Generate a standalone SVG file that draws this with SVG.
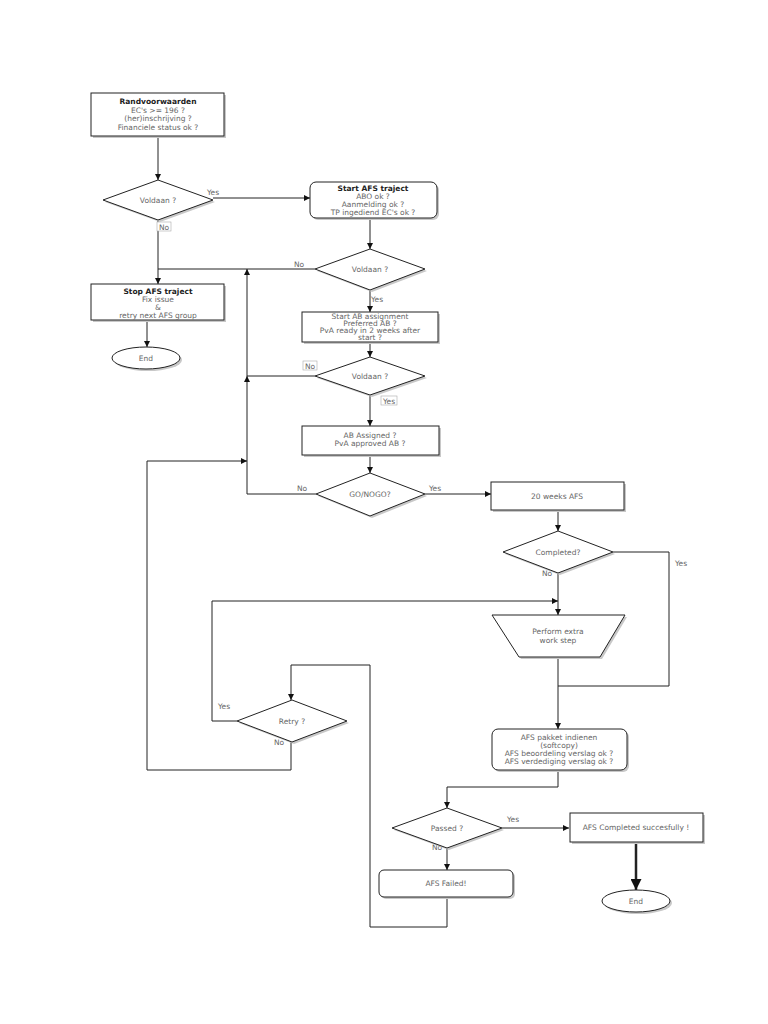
<svg xmlns="http://www.w3.org/2000/svg" width="768" height="1024" viewBox="0 0 768 1024">
<style>
text{font-family:"DejaVu Sans",Verdana,sans-serif;font-size:7.5px;fill:#666;text-anchor:middle}
.b{font-weight:bold;fill:#222}
.shape{fill:#fff;stroke:#222;stroke-width:1}
.sh{fill:#c8c8c8;stroke:none}
.c{fill:none;stroke:#222;stroke-width:1}
.lbl{fill:#fff;stroke:#aaa;stroke-width:0.6}
</style>
<defs>
<marker id="a" viewBox="0 0 10 10" refX="10" refY="5" markerWidth="6" markerHeight="6" orient="auto" markerUnits="userSpaceOnUse"><path d="M0,0L10,5L0,10z" fill="#111"/></marker>
<marker id="ab" viewBox="0 0 10 10" refX="10" refY="5" markerWidth="11" markerHeight="11" orient="auto" markerUnits="userSpaceOnUse"><path d="M0,0L10,5L0,10z" fill="#111"/></marker>
</defs>
<rect width="768" height="1024" fill="#fff"/>

<g id="connectors">
<path class="c" d="M158,136V180" marker-end="url(#a)"/>
<path class="c" d="M213,198H310" marker-end="url(#a)"/>
<path class="c" d="M158,220V284" marker-end="url(#a)"/>
<path class="c" d="M370,218V249" marker-end="url(#a)"/>
<path class="c" d="M315,269H158"/>
<path class="c" d="M370,290V312" marker-end="url(#a)"/>
<path class="c" d="M147,320V347" marker-end="url(#a)"/>
<path class="c" d="M370,342V357" marker-end="url(#a)"/>
<path class="c" d="M315,376H247"/>
<path class="c" d="M370,395V426" marker-end="url(#a)"/>
<path class="c" d="M370,455V473" marker-end="url(#a)"/>
<path class="c" d="M316,494H247V376" marker-end="url(#a)"/>
<path class="c" d="M247,376V269" marker-end="url(#a)"/>
<path class="c" d="M425,494H491" marker-end="url(#a)"/>
<path class="c" d="M558,510V531" marker-end="url(#a)"/>
<path class="c" d="M613,552H669V686H558"/>
<path class="c" d="M558,573V615" marker-end="url(#a)"/>
<path class="c" d="M237,721H212V601H558" marker-end="url(#a)"/>
<path class="c" d="M558,657V729" marker-end="url(#a)"/>
<path class="c" d="M291,742V770H147V461H247" marker-end="url(#a)"/>
<path class="c" d="M447,897V927H370V665H291V700" marker-end="url(#a)"/>
<path class="c" d="M558,770V787H447V808" marker-end="url(#a)"/>
<path class="c" d="M502,828H569" marker-end="url(#a)"/>
<path class="c" d="M447,848V870" marker-end="url(#a)"/>
<path class="c" d="M636,842V890" marker-end="url(#ab)" style="stroke-width:2.5"/>

<rect class="lbl" x="157" y="222" width="14" height="9"/>
<text x="164" y="229.5">No</text>
<text x="213" y="195">Yes</text>
<text x="299" y="267">No</text>
<text x="377" y="302">Yes</text>
<rect class="lbl" x="303" y="361" width="14" height="9"/>
<text x="310" y="368.5">No</text>
<rect class="lbl" x="381" y="396" width="16" height="9"/>
<text x="389" y="403.5">Yes</text>
<text x="302" y="491">No</text>
<text x="435" y="491">Yes</text>
<text x="681" y="566">Yes</text>
<text x="547" y="576">No</text>
<text x="224" y="709">Yes</text>
<text x="279" y="745">No</text>
<text x="513" y="822">Yes</text>
<text x="437" y="850">No</text>
</g>

<g id="randvoorwaarden">
<rect class="sh" x="93" y="95" width="133" height="43"/>
<rect class="shape" x="91" y="93" width="133" height="43"/>
<text class="b" x="158" y="104">Randvoorwaarden</text>
<text x="158" y="112.5">EC's &gt;= 196 ?</text>
<text x="158" y="121">(her)inschrijving ?</text>
<text x="158" y="129.5">Financiele status ok ?</text>
</g>

<g id="voldaan1">
<polygon class="sh" points="160,182 215,202 160,222 105,202"/>
<polygon class="shape" points="158,180 213,200 158,220 103,200"/>
<text x="158" y="203">Voldaan ?</text>
</g>

<g id="start-afs">
<rect class="sh" x="312" y="184" width="127" height="36" rx="6"/>
<rect class="shape" x="310" y="182" width="127" height="36" rx="6"/>
<text class="b" x="373" y="191">Start AFS traject</text>
<text x="373" y="199">ABO ok ?</text>
<text x="373" y="207">Aanmelding ok ?</text>
<text x="373" y="215">TP ingediend EC's ok ?</text>
</g>

<g id="voldaan2">
<polygon class="sh" points="372,251 427,271 372,292 317,271"/>
<polygon class="shape" points="370,249 425,269 370,290 315,269"/>
<text x="370" y="272">Voldaan ?</text>
</g>

<g id="stop-afs">
<rect class="sh" x="93" y="286" width="133" height="36"/>
<rect class="shape" x="91" y="284" width="133" height="36"/>
<text class="b" x="158" y="294">Stop AFS traject</text>
<text x="158" y="302">Fix issue</text>
<text x="158" y="310">&amp;</text>
<text x="158" y="318">retry next AFS group</text>
</g>

<g id="end1">
<ellipse class="sh" cx="148" cy="360" rx="34" ry="11"/>
<ellipse class="shape" cx="146" cy="358" rx="34" ry="11"/>
<text x="146" y="361">End</text>
</g>

<g id="start-ab">
<rect class="sh" x="304" y="314" width="136" height="30"/>
<rect class="shape" x="302" y="312" width="136" height="30"/>
<text x="370" y="318.5">Start AB assignment</text>
<text x="370" y="325.5">Preferred AB ?</text>
<text x="370" y="332.5">PvA ready in 2 weeks after</text>
<text x="370" y="339.5">start ?</text>
</g>

<g id="voldaan3">
<polygon class="sh" points="372,359 427,378 372,397 317,378"/>
<polygon class="shape" points="370,357 425,376 370,395 315,376"/>
<text x="370" y="379">Voldaan ?</text>
</g>

<g id="ab-assigned">
<rect class="sh" x="304" y="428" width="137" height="29"/>
<rect class="shape" x="302" y="426" width="137" height="29"/>
<text x="370" y="438">AB Assigned ?</text>
<text x="370" y="446">PvA approved AB ?</text>
</g>

<g id="gonogo">
<polygon class="sh" points="372,475 427,496 372,518 318,496"/>
<polygon class="shape" points="370,473 425,494 370,516 316,494"/>
<text x="370" y="497">GO/NOGO?</text>
</g>

<g id="weeks">
<rect class="sh" x="493" y="484" width="133" height="28"/>
<rect class="shape" x="491" y="482" width="133" height="28"/>
<text x="557" y="499">20 weeks AFS</text>
</g>

<g id="completed">
<polygon class="sh" points="560,533 615,554 560,575 505,554"/>
<polygon class="shape" points="558,531 613,552 558,573 503,552"/>
<text x="558" y="555">Completed?</text>
</g>

<g id="perform">
<polygon class="sh" points="494,617 627,617 602,659 521,659"/>
<polygon class="shape" points="492,615 625,615 600,657 519,657"/>
<text x="558" y="634">Perform extra</text>
<text x="558" y="643">work step</text>
</g>

<g id="retry">
<polygon class="sh" points="294,702 349,723 294,744 239,723"/>
<polygon class="shape" points="292,700 347,721 292,742 237,721"/>
<text x="292" y="724">Retry ?</text>
</g>

<g id="afs-pakket">
<rect class="sh" x="494" y="731" width="135" height="41" rx="6"/>
<rect class="shape" x="492" y="729" width="135" height="41" rx="6"/>
<text x="559" y="740">AFS pakket indienen</text>
<text x="559" y="748">(softcopy)</text>
<text x="559" y="756">AFS beoordeling verslag ok ?</text>
<text x="559" y="764">AFS verdediging verslag ok ?</text>
</g>

<g id="passed">
<polygon class="sh" points="449,810 504,830 449,850 394,830"/>
<polygon class="shape" points="447,808 502,828 447,848 392,828"/>
<text x="447" y="831">Passed ?</text>
</g>

<g id="afs-completed">
<rect class="sh" x="572" y="815" width="133" height="29"/>
<rect class="shape" x="570" y="813" width="133" height="29"/>
<text x="636" y="830">AFS Completed succesfully !</text>
</g>

<g id="afs-failed">
<rect class="sh" x="381" y="872" width="134" height="27" rx="5"/>
<rect class="shape" x="379" y="870" width="134" height="27" rx="5"/>
<text x="446" y="886">AFS Failed!</text>
</g>

<g id="end2">
<ellipse class="sh" cx="638" cy="903" rx="34" ry="11"/>
<ellipse class="shape" cx="636" cy="901" rx="34" ry="11"/>
<text x="636" y="904">End</text>
</g>
</svg>
